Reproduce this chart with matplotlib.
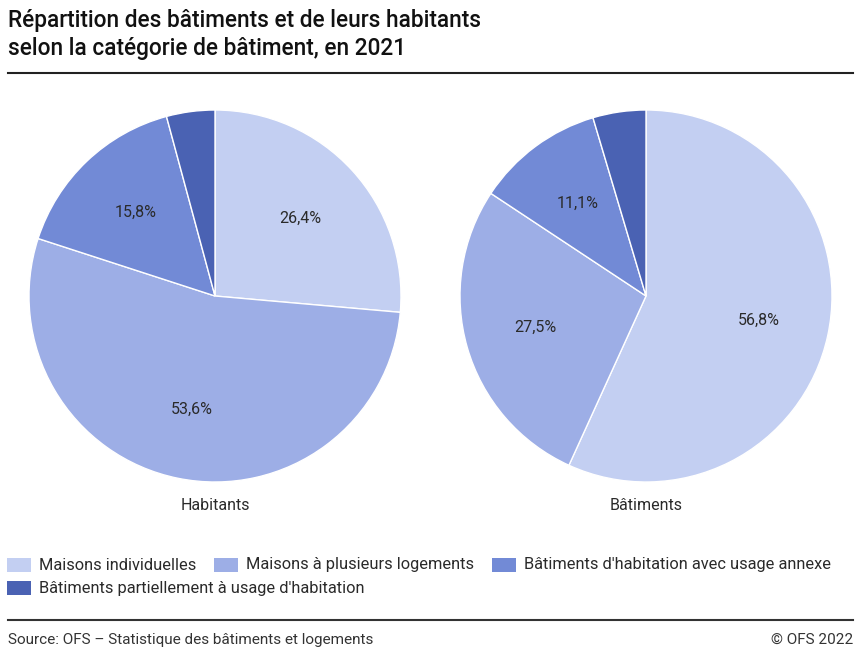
import matplotlib.pyplot as plt
from matplotlib.patches import Rectangle
from matplotlib.lines import Line2D

plt.rcParams['font.family'] = ['Roboto', 'DejaVu Sans']

categories = ['Maisons individuelles', 'Maisons à plusieurs logements',
              "Bâtiments d'habitation avec usage annexe",
              "Bâtiments partiellement à usage d'habitation"]
habitants = [26.4, 53.6, 15.8, 4.2]
batiments = [56.8, 27.5, 11.1, 4.6]
pie_titles = ['Habitants', 'Bâtiments']
colors = ['#c3cff2', '#9daee6', '#728ad6', '#4a62b3']

W, H = 862, 657
fig = plt.figure(figsize=(W / 100, H / 100), dpi=100)


def fx(px):
    return px / W


def fy(py):
    return 1 - py / H


def pct_label(v):
    if v < 5:
        return ''
    return f'{v:.1f}'.replace('.', ',') + '%'


r = 186
for cx, vals, name in [(215, habitants, pie_titles[0]), (646, batiments, pie_titles[1])]:
    ax = fig.add_axes([fx(cx - r), fy(296 + r), 2 * r / W, 2 * r / H])
    ax.pie(vals, colors=colors, startangle=90, counterclock=False,
           autopct=pct_label, pctdistance=0.62,
           wedgeprops=dict(edgecolor='white', linewidth=1),
           textprops=dict(fontsize=11.5, color='#2a2a2a'))
    ax.set_xlim(-1, 1)
    ax.set_ylim(-1, 1)
    ax.set_aspect('auto')
    ax.axis('off')
    fig.text(fx(cx), fy(506), name, ha='center', va='center', fontsize=11.5,
             color='#2a2a2a')

# title
fig.text(fx(8), fy(20), 'Répartition des bâtiments et de leurs habitants',
         fontsize=16.3, fontweight='medium', va='center', ha='left', color='#111111')
fig.text(fx(8), fy(48), 'selon la catégorie de bâtiment, en 2021',
         fontsize=16.3, fontweight='medium', va='center', ha='left', color='#111111')
fig.add_artist(Line2D([fx(8), fx(853)], [fy(73), fy(73)], color='#222222', linewidth=1.5))

# legend, flowing left to right
fig.canvas.draw()
renderer = fig.canvas.get_renderer()
x, y = 7, 565
for col, lab in zip(colors, categories):
    t = fig.text(fx(x + 32), fy(y), lab, fontsize=11.8, color='#2a2a2a', va='center',
                 ha='left')
    w = t.get_window_extent(renderer).width
    if x + 32 + w > 852:
        x, y = 7, y + 23
        t.set_position((fx(x + 32), fy(y)))
    fig.add_artist(Rectangle((fx(x), fy(y + 7)), 24 / W, 14 / H, facecolor=col,
                             edgecolor='none', transform=fig.transFigure))
    x = x + 32 + w + 18

fig.add_artist(Line2D([fx(8), fx(853)], [fy(620), fy(620)], color='#333333', linewidth=1.5))
fig.text(fx(8), fy(640), 'Source: OFS – Statistique des bâtiments et logements',
         fontsize=11, color='#333333', va='center', ha='left')
fig.text(fx(853), fy(640), '© OFS 2022', fontsize=11, color='#333333', va='center',
         ha='right')

fig.savefig('out.png', dpi=100)
